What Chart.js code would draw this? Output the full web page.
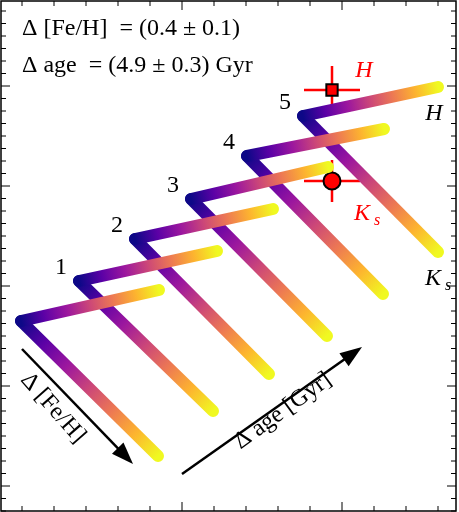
<!DOCTYPE html>
<html>
<head>
<meta charset="utf-8">
<script src="https://cdn.jsdelivr.net/npm/chart.js@4"></script>
<style>
  html, body { margin: 0; padding: 0; background: #fff; }
  #wrap { width: 459px; height: 512px; }
</style>
</head>
<body>
<div id="wrap"><canvas id="grid"></canvas></div>
<script>
// grid nodes, one per metallicity step (x, y in figure units, y up)
const nodeX = [20, 78, 134, 190, 246, 302];
const nodeY = [190, 230, 272, 312, 355, 395];
const nodeLabels = ["", "1", "2", "3", "4", "5"];
// end of each H track and each Ks track
const hEndX = [158, 216, 272, 327, 383, 437];
const hEndY = [221, 260, 302, 344, 382, 424];
const kEndX = [157, 212, 268, 326, 382, 437];
const kEndY = [55, 100, 137, 175, 217, 259];

// measured points with errors
const obsX = [331, 331];
const obsY = [421, 330];
const obsXErr = [28, 28];
const obsYErr = [24, 21];

const plasma = ["#0d0887", "#5c01a6", "#9c179e", "#cc4778", "#ed7953", "#fdb42f", "#f0f921"];
const serif = "'Liberation Serif', 'DejaVu Serif', serif";

function trackGradient(ctx) {
  const chart = ctx.chart;
  const ds = chart.data.datasets[ctx.datasetIndex];
  if (!chart.chartArea) return plasma[0];
  const a = ds.data[0], b = ds.data[1];
  const sx = chart.scales.x, sy = chart.scales.y;
  const g = chart.ctx.createLinearGradient(
    sx.getPixelForValue(a.x), sy.getPixelForValue(a.y),
    sx.getPixelForValue(b.x), sy.getPixelForValue(b.y));
  plasma.forEach((c, i) => g.addColorStop(i / (plasma.length - 1), c));
  return g;
}

const datasets = [];
nodeX.forEach((x, i) => {
  const track = end => ({
    type: "line",
    data: [{ x: x, y: nodeY[i] }, end],
    borderColor: trackGradient,
    borderWidth: 12,
    borderCapStyle: "round",
    borderJoinStyle: "round",
    pointRadius: 0
  });
  datasets.push(track({ x: hEndX[i], y: hEndY[i] }));
  datasets.push(track({ x: kEndX[i], y: kEndY[i] }));
});
datasets.push({
  type: "scatter",
  data: obsX.map((x, i) => ({ x: x, y: obsY[i] })),
  pointStyle: ["rect", "circle"],
  pointRadius: [8, 8.5],
  backgroundColor: "#ff0000",
  borderColor: "#000",
  borderWidth: 2
});

const decor = {
  id: "decor",
  beforeDatasetsDraw(chart) {
    const c = chart.ctx, sx = chart.scales.x, sy = chart.scales.y;
    c.save();
    c.strokeStyle = "#ff0000";
    c.lineWidth = 2.5;
    obsX.forEach((x, i) => {
      c.beginPath();
      c.moveTo(sx.getPixelForValue(x - obsXErr[i]), sy.getPixelForValue(obsY[i]));
      c.lineTo(sx.getPixelForValue(x + obsXErr[i]), sy.getPixelForValue(obsY[i]));
      c.moveTo(sx.getPixelForValue(x), sy.getPixelForValue(obsY[i] - obsYErr[i]));
      c.lineTo(sx.getPixelForValue(x), sy.getPixelForValue(obsY[i] + obsYErr[i]));
      c.stroke();
    });
    c.restore();
  },
  afterDraw(chart) {
    const c = chart.ctx, sx = chart.scales.x, sy = chart.scales.y;
    const px = v => sx.getPixelForValue(v), py = v => sy.getPixelForValue(v);
    const a = chart.chartArea;
    c.save();
    // frame with inward ticks
    c.strokeStyle = "#000";
    c.lineWidth = 1.5;
    c.strokeRect(a.left, a.top, a.right - a.left, a.bottom - a.top);
    c.lineWidth = 1;
    for (let v = 21; v < 459; v += 32) {
      const len = (v === 181 || v === 341) ? 9 : 5;
      c.beginPath();
      c.moveTo(px(v), a.top); c.lineTo(px(v), a.top + len);
      c.moveTo(px(v), a.bottom); c.lineTo(px(v), a.bottom - len);
      c.stroke();
    }
    for (let v = 0; v < 512; v += 12.5) {
      const len = (Math.round(v / 12.5) % 8 === 2) ? 9 : 5;
      c.beginPath();
      c.moveTo(a.left, py(v)); c.lineTo(a.left + len, py(v));
      c.moveTo(a.right, py(v)); c.lineTo(a.right - len, py(v));
      c.stroke();
    }
    // node numbers
    c.fillStyle = "#000";
    c.font = "24px " + serif;
    c.textAlign = "center";
    c.textBaseline = "middle";
    nodeLabels.forEach((t, i) => { if (t) c.fillText(t, px(nodeX[i] - 18), py(nodeY[i] + 13)); });
    // track names
    c.font = "italic 24px " + serif;
    c.fillText("H", px(433), py(397));
    c.fillText("K", px(432), py(232));
    c.font = "italic 16px " + serif;
    c.fillText("s", px(447), py(225));
    c.fillStyle = "#ff0000";
    c.font = "italic 24px " + serif;
    c.fillText("H", px(363), py(440));
    c.fillText("K", px(361), py(297));
    c.font = "italic 16px " + serif;
    c.fillText("s", px(376), py(290));
    // header
    c.fillStyle = "#000";
    c.textAlign = "left";
    c.font = "24px " + serif;
    c.fillText("\u0394 [Fe/H]  = (0.4 \u00b1 0.1)", 22, 29);
    c.fillText("\u0394 age  = (4.9 \u00b1 0.3) Gyr", 22, 66);
    // direction arrows
    const arrow = (x0, y0, x1, y1) => {
      const ang = Math.atan2(y1 - y0, x1 - x0);
      c.lineWidth = 2.5;
      c.beginPath(); c.moveTo(x0, y0);
      c.lineTo(x1 - 14 * Math.cos(ang), y1 - 14 * Math.sin(ang)); c.stroke();
      c.beginPath();
      c.moveTo(x1, y1);
      c.lineTo(x1 - 22 * Math.cos(ang) + 8 * Math.sin(ang), y1 - 22 * Math.sin(ang) - 8 * Math.cos(ang));
      c.lineTo(x1 - 22 * Math.cos(ang) - 8 * Math.sin(ang), y1 - 22 * Math.sin(ang) + 8 * Math.cos(ang));
      c.closePath(); c.fill();
    };
    arrow(px(21), py(162), px(132), py(47));
    arrow(px(181), py(37), px(361), py(164));
    c.textAlign = "center";
    c.font = "24px " + serif;
    c.save();
    c.translate(px(52), py(103));
    c.rotate(Math.PI * 0.27);
    c.fillText("\u0394 [Fe/H]", 0, 0);
    c.restore();
    c.save();
    c.translate(px(282), py(100));
    c.rotate(-Math.PI * 0.2);
    c.fillText("\u0394 age [Gyr]", 0, 0);
    c.restore();
    c.restore();
  }
};

new Chart(document.getElementById("grid"), {
  data: { datasets: datasets },
  options: {
    responsive: true,
    maintainAspectRatio: false,
    animation: false,
    layout: { autoPadding: false, padding: { left: 1, right: 3, top: 1, bottom: 1 } },
    plugins: { legend: { display: false }, tooltip: { enabled: false } },
    scales: {
      x: { type: "linear", min: 0, max: 455, display: false },
      y: { type: "linear", min: 0, max: 510, display: false }
    }
  },
  plugins: [decor]
});
</script>
</body>
</html>
